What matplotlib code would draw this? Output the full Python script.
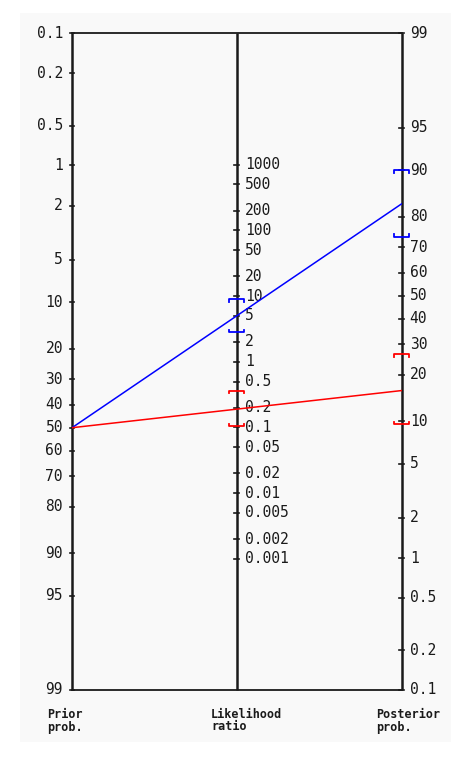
import numpy as np
import matplotlib.pyplot as plt
from matplotlib.patches import Rectangle

# tick values of the three scales
prior_ticks = [0.1, 0.2, 0.5, 1, 2, 5, 10, 20, 30, 40, 50, 60, 70, 80, 90, 95, 99]
lr_ticks = [1000, 500, 200, 100, 50, 20, 10, 5, 2, 1, 0.5, 0.2, 0.1,
            0.05, 0.02, 0.01, 0.005, 0.002, 0.001]
post_ticks = [99, 95, 90, 80, 70, 60, 50, 40, 30, 20, 10, 5, 2, 1, 0.5, 0.2, 0.1]

# test result: prior probability (%), likelihood ratios with 95% CI
prior = 50
lr_pos = 5.0
lr_pos_ci = [2.8, 9.0]
lr_neg = 0.19
lr_neg_ci = [0.105, 0.36]

P_MIN, P_MAX = 0.1, 99


def logit(p):
    p = np.asarray(p, dtype=float) / 100
    return np.log(p / (1 - p))


OFF = float(logit(P_MIN) + logit(P_MAX))


def y_prior(p):
    return logit(p)


def y_post(p):
    return OFF - logit(p)


def y_lr(lr):
    return (OFF - np.log(np.asarray(lr, dtype=float))) / 2


def post_from(pr, lr):
    o = np.exp(logit(pr)) * lr
    return 100 * o / (1 + o)


W, H = 474, 759
fig = plt.figure(figsize=(W / 100, H / 100), dpi=100)
fig.patches.append(Rectangle((20 / W, 1 - 742 / H), 431 / W, 729 / H,
                             transform=fig.transFigure, facecolor='#f9f9f9',
                             edgecolor='none', zorder=-5))
ax = fig.add_axes([72 / W, 1 - 690 / H, 329.5 / W, 656.5 / H])
ax.set_xlim(0, 2)
ax.set_ylim(float(logit(P_MAX)), float(logit(P_MIN)))
ax.axis('off')

ink = '#1a1a1a'
ytop, ybot = float(logit(P_MIN)), float(logit(P_MAX))
for x in [0, 1, 2]:
    ax.plot([x, x], [ytop, ybot], color=ink, lw=1.8, solid_capstyle='butt',
            zorder=3, clip_on=False)
ax.plot([0, 2], [ytop, ytop], color=ink, lw=1.3, zorder=3, clip_on=False)
ax.plot([0, 2], [ybot, ybot], color=ink, lw=1.3, zorder=3, clip_on=False)

font = dict(family='DejaVu Sans Mono', fontsize=10.5, color=ink)
tk = 0.014

for v in prior_ticks:
    y = y_prior(v)
    ax.plot([-tk, tk], [y, y], color=ink, lw=1.2, zorder=3, clip_on=False)
    ax.text(-0.055, y, f'{v:g}', ha='right', va='center', **font)

for v in lr_ticks:
    y = y_lr(v)
    ax.plot([1 - tk, 1 + tk], [y, y], color=ink, lw=1.2, zorder=3, clip_on=False)
    ax.text(1.05, y, f'{v:g}', ha='left', va='center', **font)

for v in post_ticks:
    y = y_post(v)
    ax.plot([2 - tk, 2 + tk], [y, y], color=ink, lw=1.2, zorder=3, clip_on=False)
    ax.text(2.05, y, f'{v:g}', ha='left', va='center', **font)


def bracket(x, y, down, color):
    hw, tl = 0.045, 0.045
    d = tl if down else -tl
    ax.plot([x - hw, x - hw, x + hw, x + hw], [y + d, y, y, y + d],
            color=color, lw=1.3, zorder=4, clip_on=False)


for lr, ci, c in [(lr_pos, lr_pos_ci, '#0000ff'), (lr_neg, lr_neg_ci, '#ff0000')]:
    post = post_from(prior, lr)
    ax.plot([0, 2], [y_prior(prior), y_post(post)], color=c, lw=1.1, zorder=5)
    lo, hi = min(ci), max(ci)
    bracket(1, y_lr(hi), True, c)
    bracket(1, y_lr(lo), False, c)
    bracket(2, y_post(post_from(prior, hi)), True, c)
    bracket(2, y_post(post_from(prior, lo)), False, c)

lab = dict(family='DejaVu Sans Mono', fontsize=8.5, fontweight='bold',
           color=ink, va='top', ha='left', linespacing=0.95)
fig.text(47 / W, 1 - 708 / H, 'Prior\nprob.', **lab)
fig.text(211 / W, 1 - 708 / H, 'Likelihood\nratio', **lab)
fig.text(376 / W, 1 - 708 / H, 'Posterior\nprob.', **lab)

fig.savefig('out.png', dpi=100, facecolor='white')
